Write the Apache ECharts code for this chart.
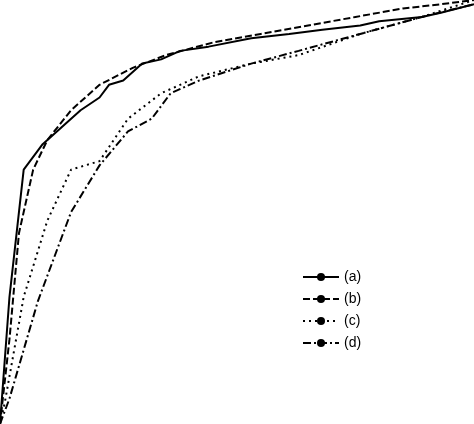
<!DOCTYPE html><html><head><meta charset="utf-8"><script src="https://cdn.jsdelivr.net/npm/echarts@6/dist/echarts.min.js"></script></head><body style="margin:0;background:#fff"><div id="c" style="width:474px;height:424px"></div><script>
const names=['(a)','(b)','(c)','(d)'];
const serA=[[0,0],[0.02,0.3],[0.05,0.6],[0.09,0.66],[0.13,0.7],[0.17,0.74],[0.21,0.77],[0.23,0.8],[0.26,0.81],[0.3,0.85],[0.34,0.86],[0.38,0.88],[0.44,0.89],[0.53,0.91],[0.61,0.92],[0.68,0.93],[0.76,0.94],[0.8,0.95],[0.89,0.96],[0.93,0.97],[1,0.99]];
const serB=[[0,0],[0.02,0.2],[0.04,0.45],[0.07,0.6],[0.1,0.67],[0.15,0.74],[0.21,0.8],[0.28,0.84],[0.35,0.87],[0.45,0.9],[0.55,0.92],[0.65,0.94],[0.75,0.96],[0.85,0.98],[0.93,0.99],[1,1]];
const serC=[[0,0],[0.01,0.05],[0.05,0.3],[0.1,0.48],[0.15,0.6],[0.21,0.62],[0.27,0.72],[0.34,0.78],[0.42,0.82],[0.53,0.85],[0.63,0.87],[0.76,0.92],[0.89,0.96],[1,1]];
const serD=[[0,0],[0.02,0.06],[0.08,0.29],[0.15,0.5],[0.21,0.61],[0.27,0.69],[0.32,0.72],[0.36,0.78],[0.42,0.81],[0.53,0.85],[0.63,0.88],[0.76,0.92],[0.89,0.96],[1,0.99]];
const dashes=['solid',[7,3],[2,4],[8,3,2,3]];
const data=[serA,serB,serC,serD];
const ch=echarts.init(document.getElementById('c'));
ch.setOption({animation:false,
grid:{left:0,right:0,top:0,bottom:0},
xAxis:{type:'value',min:0,max:1,show:false},
yAxis:{type:'value',min:0,max:1,show:false},
legend:{orient:'vertical',left:297,top:265,itemWidth:36,itemHeight:10,itemGap:8,
 textStyle:{fontFamily:'Liberation Sans',fontSize:14,color:'#000'},data:names},
series:data.map((d,i)=>({name:names[i],type:'line',data:d,symbol:'none',
 lineStyle:{color:'#000',width:2,type:dashes[i]},itemStyle:{color:'#000'}}))
});
</script></body></html>
